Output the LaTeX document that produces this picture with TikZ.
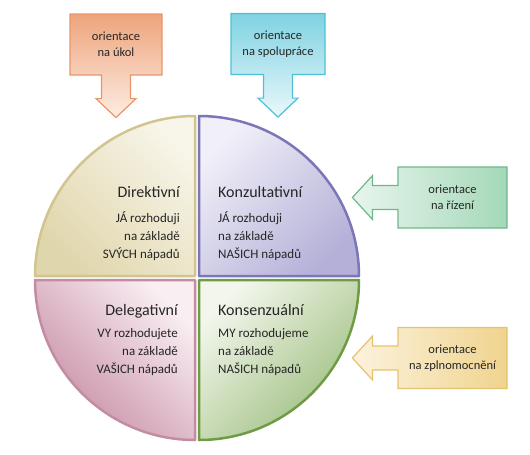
\documentclass[tikz,border=0pt]{standalone}
\usepackage{fontspec}
\setmainfont{Carlito}
\usepackage{xcolor}
\usetikzlibrary{positioning, shapes.arrows}
\definecolor{tanedge}{HTML}{D2C48F}
\definecolor{tanlight}{HTML}{F8F5E9}
\definecolor{tandark}{HTML}{E0D6AC}
\definecolor{lavedge}{HTML}{7B76B8}
\definecolor{lavlight}{HTML}{F1F0F8}
\definecolor{lavdark}{HTML}{B4B0D8}
\definecolor{pinkedge}{HTML}{C48CA2}
\definecolor{pinklight}{HTML}{F9EFF3}
\definecolor{pinkdark}{HTML}{C68AA2}
\definecolor{greenedge}{HTML}{6E9C44}
\definecolor{greenlight}{HTML}{F2F6EC}
\definecolor{greendark}{HTML}{9CBD7C}
\definecolor{orangeedge}{HTML}{E9956A}
\definecolor{orangefill}{HTML}{EEA47C}
\definecolor{orangelight}{HTML}{FDEDE3}
\definecolor{cyanedge}{HTML}{4FC1D6}
\definecolor{cyanfill}{HTML}{7FD2E2}
\definecolor{cyanlight}{HTML}{EAF8FB}
\definecolor{mintedge}{HTML}{6DB98C}
\definecolor{mintfill}{HTML}{A4D8B8}
\definecolor{mintlight}{HTML}{E8F5ED}
\definecolor{goldedge}{HTML}{E5C26E}
\definecolor{goldfill}{HTML}{F0D38E}
\definecolor{goldlight}{HTML}{FCF3DE}
\definecolor{ink}{HTML}{262626}
\tikzset{
  quadrant/.style={line width=2.5pt, line join=round},
  quadtitle/.style={font=\fontsize{16}{18}\selectfont, text=ink, inner sep=0pt, text depth=0pt},
  quadbody/.style={font=\fontsize{13}{18}\selectfont, text=ink, inner sep=0pt},
  downsign/.style={arrow box, line width=1.2pt, inner sep=0pt, align=center, text=ink,
    font=\fontsize{12.5}{16}\selectfont, minimum height=61pt,
    arrow box arrows={south:42pt from border}, arrow box shaft width=29pt,
    arrow box head extend=5.5pt, arrow box tip angle=93},
  leftsign/.style={arrow box, line width=1.2pt, inner sep=0pt, align=center, text=ink,
    font=\fontsize{12.5}{16}\selectfont, minimum width=109pt, minimum height=61pt,
    arrow box arrows={west:45pt from border}, arrow box shaft width=24pt,
    arrow box head extend=10pt, arrow box tip angle=95},
}
\begin{document}
\begin{tikzpicture}[x=1pt, y=-1pt]
  \useasboundingbox (0,0) rectangle (530,455);
  % four quarters of the circle
  \draw[quadrant, draw=tanedge, top color=tanlight, bottom color=tandark, shading angle=-45]
    (195,276) -- ++(-160,0) arc[start angle=180, end angle=270, radius=160] -- cycle;
  \draw[quadrant, draw=lavedge, top color=lavlight, bottom color=lavdark, shading angle=45]
    (199,276) -- ++(0,-160) arc[start angle=270, end angle=360, radius=160] -- cycle;
  \draw[quadrant, draw=pinkedge, top color=pinklight, bottom color=pinkdark, shading angle=-45]
    (195,280) -- ++(0,160) arc[start angle=90, end angle=180, radius=160] -- cycle;
  \draw[quadrant, draw=greenedge, top color=greenlight, bottom color=greendark, shading angle=45]
    (199,280) -- ++(160,0) arc[start angle=0, end angle=90, radius=160] -- cycle;

  % quarter texts
  \node[quadtitle, anchor=base east] (dirT) at (180,197) {Direktivní};
  \node[quadbody, align=right, below=14pt of dirT.south east, anchor=north east] (dirB)
    {JÁ rozhoduji\\na základě\\SVÝCH nápadů};
  \node[quadtitle, anchor=base west] (konT) at (218,197) {Konzultativní};
  \node[quadbody, align=left, below=14pt of konT.south west, anchor=north west] (konB)
    {JÁ rozhoduji\\na základě\\NAŠICH nápadů};
  \node[quadtitle, anchor=base east] (delT) at (178,315) {Delegativní};
  \node[quadbody, align=right, below=13pt of delT.south east, anchor=north east] (delB)
    {VY rozhodujete\\na základě\\VAŠICH nápadů};
  \node[quadtitle, anchor=base west] (konsT) at (218,315) {Konsenzuální};
  \node[quadbody, align=left, below=13pt of konsT.south west, anchor=north west] (konsB)
    {MY rozhodujeme\\na základě\\NAŠICH nápadů};

  % orientation signs
  \node[downsign, draw=orangeedge, top color=orangefill, bottom color=orangelight,
    minimum width=92pt] (task) at (116,44.5) {orientace\\na úkol};
  \node[downsign, draw=cyanedge, top color=cyanfill, bottom color=cyanlight,
    minimum width=94pt] (team) at (278,44) {orientace\\na spolupráce};
  \node[leftsign, draw=mintedge, right color=mintfill, left color=mintlight]
    (lead) at (452.5,197.5) {orientace\\na řízení};
  \node[leftsign, draw=goldedge, right color=goldfill, left color=goldlight]
    (power) at (452.5,358) {orientace\\na zplnomocnění};
\end{tikzpicture}
\end{document}
